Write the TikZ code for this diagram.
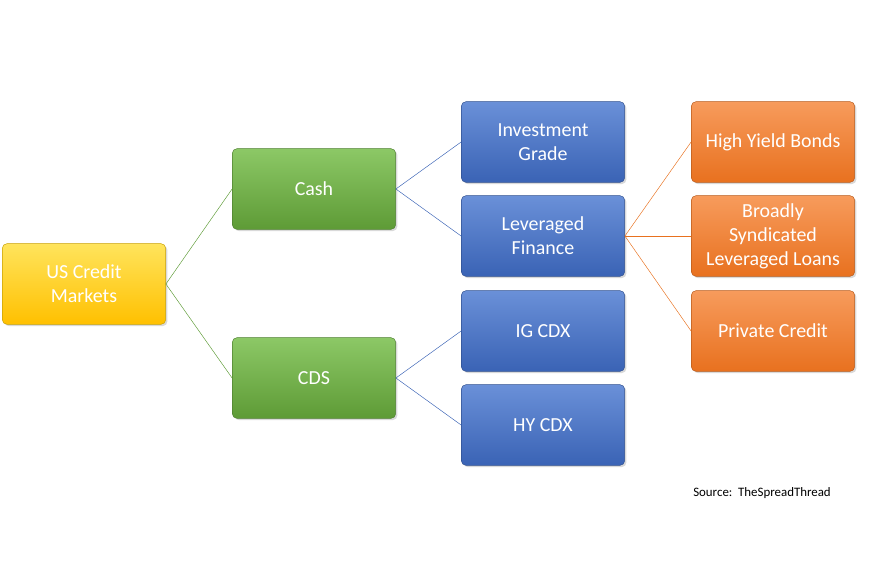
\documentclass[tikz,border=0pt]{standalone}
\usepackage{fontspec}
\setmainfont{Carlito}
\usetikzlibrary{positioning,shadows}

\definecolor{goldT}{HTML}{FFE45C}
\definecolor{goldB}{HTML}{FFC000}
\definecolor{goldD}{HTML}{C9A000}
\definecolor{greenT}{HTML}{8CC866}
\definecolor{greenB}{HTML}{5E9B36}
\definecolor{greenD}{HTML}{4E8030}
\definecolor{blueT}{HTML}{6A90D8}
\definecolor{blueB}{HTML}{3A63B5}
\definecolor{blueD}{HTML}{2F4F8F}
\definecolor{orangeT}{HTML}{F79B5C}
\definecolor{orangeB}{HTML}{E8711F}
\definecolor{orangeD}{HTML}{B85A1A}

\tikzset{
  box/.style={draw,rounded corners=4pt,minimum width=4.9cm,minimum height=2.42cm,
    align=center,text=white,font=\fontsize{17}{20.5}\selectfont,
    drop shadow={shadow xshift=1.5pt,shadow yshift=-1.5pt,opacity=0.3}},
  rootbox/.style={box,top color=goldT,bottom color=goldB,draw=goldD},
  cashbox/.style={box,top color=greenT,bottom color=greenB,draw=greenD},
  cdxbox/.style={box,top color=blueT,bottom color=blueB,draw=blueD},
  lfbox/.style={box,top color=orangeT,bottom color=orangeB,draw=orangeD},
}

\begin{document}
\begin{tikzpicture}[x=0.03cm,y=-0.03cm]
\useasboundingbox (0,0) rectangle (887,568);

% root
\node[rootbox] (USCredit) at (84,284) {US Credit\\Markets};

% second level
\node[cashbox] (Cash) at (314,189) {Cash};
\node[cashbox] (CDS) at (314,378) {CDS};

% third level
\node[cdxbox] (InvGrade) at (543,142) {Investment\\Grade};
\node[cdxbox] (LevFin) at (543,236) {Leveraged\\Finance};
\node[cdxbox] (IGCDX) at (543,331) {IG CDX};
\node[cdxbox] (HYCDX) at (543,425) {HY CDX};

% fourth level
\node[lfbox] (HYBonds) at (773,142) {High Yield Bonds};
\node[lfbox] (BSLoans) at (773,236) {Broadly\\Syndicated\\Leveraged Loans};
\node[lfbox] (PrivCredit) at (773,331) {Private Credit};

\draw[greenB,thin] (USCredit.east) -- (Cash.west);
\draw[greenB,thin] (USCredit.east) -- (CDS.west);

\draw[blueB,thin] (Cash.east) -- (InvGrade.west);
\draw[blueB,thin] (Cash.east) -- (LevFin.west);
\draw[blueB,thin] (CDS.east) -- (IGCDX.west);
\draw[blueB,thin] (CDS.east) -- (HYCDX.west);

\draw[orangeB,thin] (LevFin.east) -- (HYBonds.west);
\draw[orangeB,thin] (LevFin.east) -- (BSLoans.west);
\draw[orangeB,thin] (LevFin.east) -- (PrivCredit.west);

\node[font=\fontsize{11}{13}\selectfont] (Source) at (762,493) {Source:\ \ TheSpreadThread};

\end{tikzpicture}
\end{document}
